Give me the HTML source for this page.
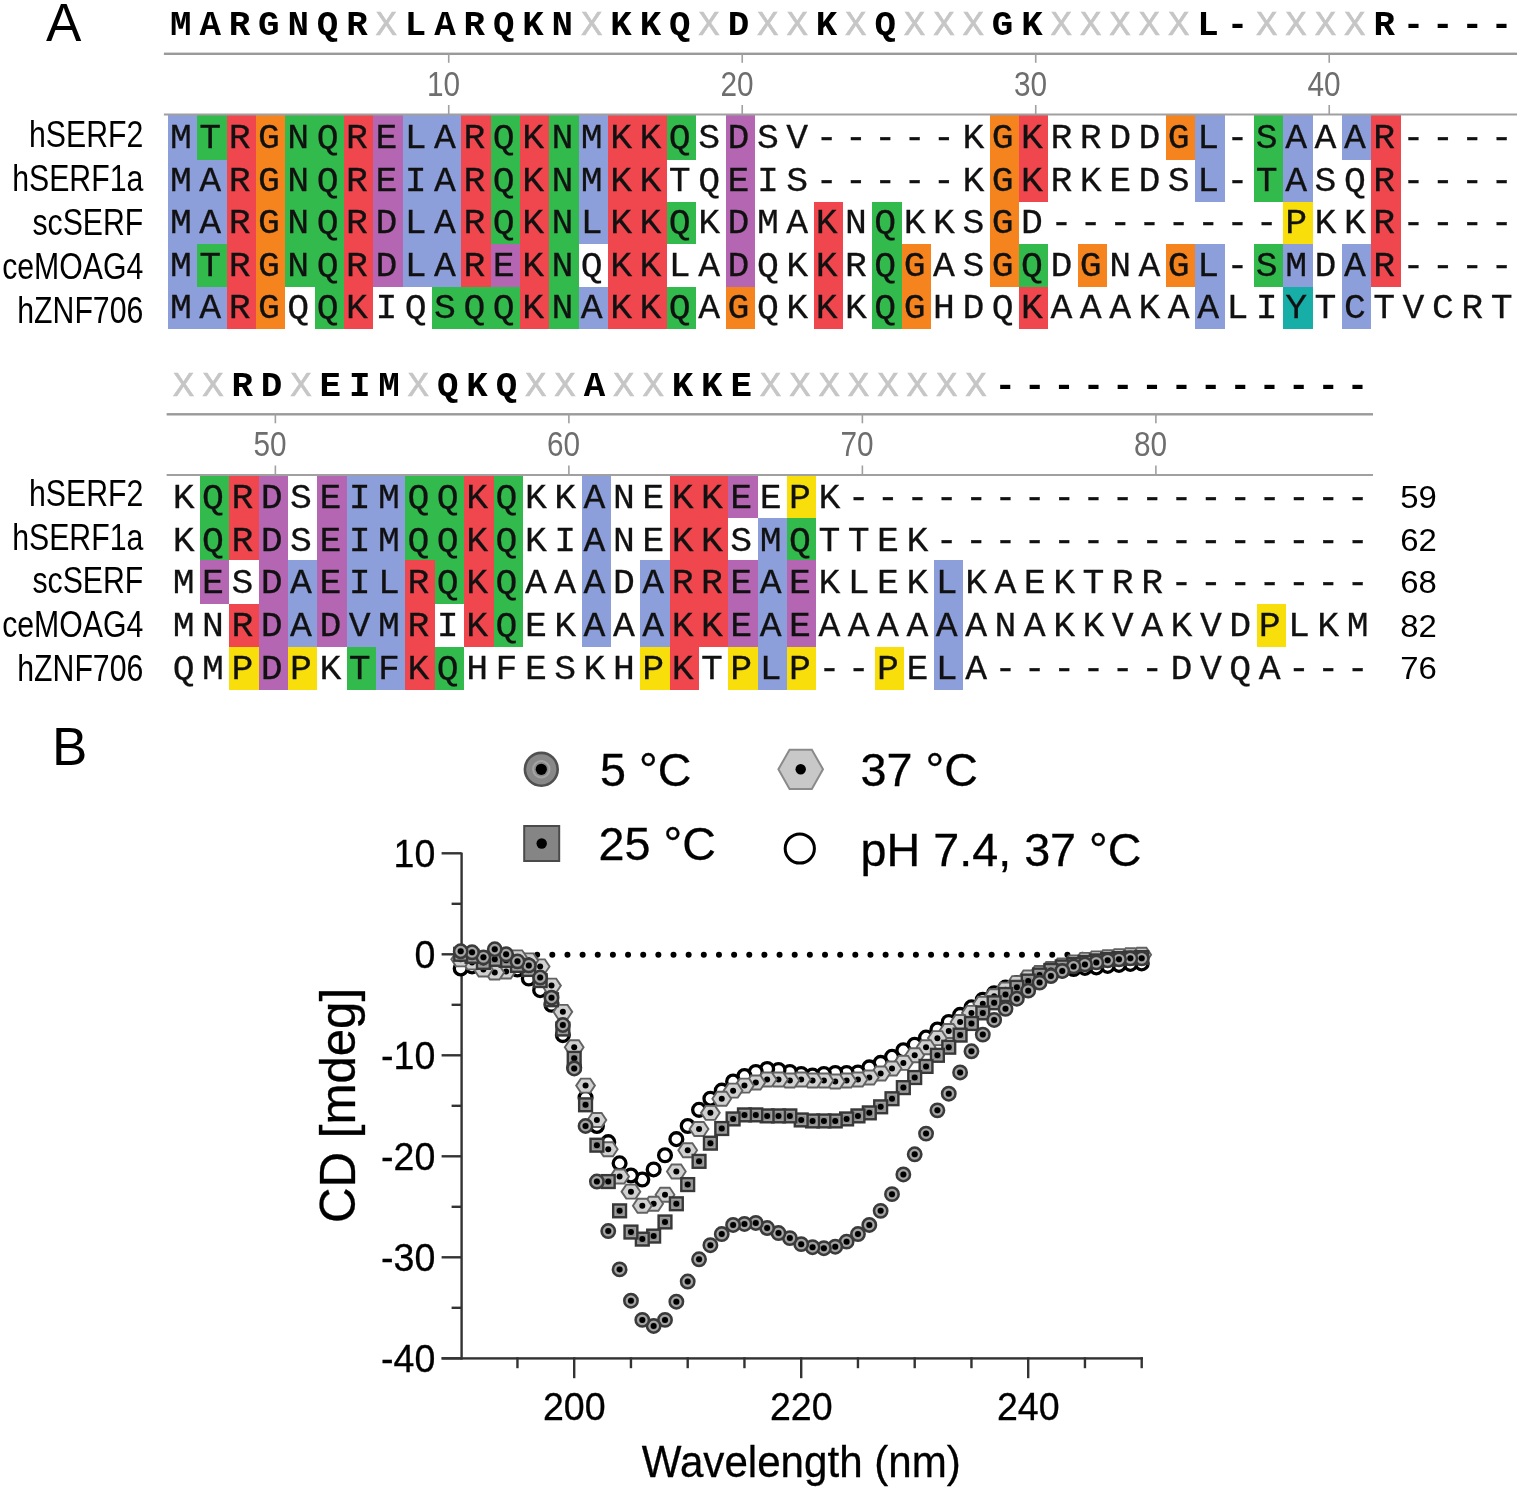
<!DOCTYPE html>
<html><head><meta charset="utf-8"><title>Alignment and CD spectra</title>
<style>html,body{margin:0;padding:0;background:#fff;}body{width:1523px;height:1487px;overflow:hidden;}svg{display:block;}</style>
</head><body>
<svg width="1523" height="1487" viewBox="0 0 1523 1487">
<rect width="100%" height="100%" fill="#fff"/>
<rect x="168" y="115" width="29" height="214" fill="#8c9fda"/>
<rect x="197" y="115" width="30" height="45" fill="#32bb4c"/>
<rect x="197" y="160" width="30" height="84" fill="#8c9fda"/>
<rect x="197" y="244" width="30" height="43" fill="#32bb4c"/>
<rect x="197" y="287" width="30" height="42" fill="#8c9fda"/>
<rect x="227" y="115" width="29" height="214" fill="#f0464e"/>
<rect x="256" y="115" width="29" height="214" fill="#f5841f"/>
<rect x="285" y="115" width="30" height="172" fill="#32bb4c"/>
<rect x="315" y="115" width="29" height="214" fill="#32bb4c"/>
<rect x="344" y="115" width="29" height="214" fill="#f0464e"/>
<rect x="373" y="115" width="30" height="172" fill="#b566b3"/>
<rect x="403" y="115" width="29" height="172" fill="#8c9fda"/>
<rect x="432" y="115" width="29" height="172" fill="#8c9fda"/>
<rect x="432" y="287" width="29" height="42" fill="#32bb4c"/>
<rect x="461" y="115" width="30" height="172" fill="#f0464e"/>
<rect x="461" y="287" width="30" height="42" fill="#32bb4c"/>
<rect x="491" y="115" width="29" height="129" fill="#32bb4c"/>
<rect x="491" y="244" width="29" height="43" fill="#b566b3"/>
<rect x="491" y="287" width="29" height="42" fill="#32bb4c"/>
<rect x="520" y="115" width="29" height="214" fill="#f0464e"/>
<rect x="549" y="115" width="30" height="214" fill="#32bb4c"/>
<rect x="579" y="115" width="29" height="129" fill="#8c9fda"/>
<rect x="579" y="287" width="29" height="42" fill="#8c9fda"/>
<rect x="608" y="115" width="30" height="214" fill="#f0464e"/>
<rect x="638" y="115" width="29" height="214" fill="#f0464e"/>
<rect x="667" y="115" width="29" height="45" fill="#32bb4c"/>
<rect x="667" y="202" width="29" height="42" fill="#32bb4c"/>
<rect x="667" y="287" width="29" height="42" fill="#32bb4c"/>
<rect x="726" y="115" width="29" height="172" fill="#b566b3"/>
<rect x="726" y="287" width="29" height="42" fill="#f5841f"/>
<rect x="814" y="202" width="29" height="127" fill="#f0464e"/>
<rect x="872" y="202" width="30" height="127" fill="#32bb4c"/>
<rect x="902" y="244" width="29" height="85" fill="#f5841f"/>
<rect x="990" y="115" width="29" height="172" fill="#f5841f"/>
<rect x="1019" y="115" width="29" height="87" fill="#f0464e"/>
<rect x="1019" y="244" width="29" height="43" fill="#32bb4c"/>
<rect x="1019" y="287" width="29" height="42" fill="#f0464e"/>
<rect x="1078" y="244" width="29" height="43" fill="#f5841f"/>
<rect x="1166" y="115" width="29" height="45" fill="#f5841f"/>
<rect x="1166" y="244" width="29" height="43" fill="#f5841f"/>
<rect x="1195" y="115" width="30" height="87" fill="#8c9fda"/>
<rect x="1195" y="244" width="30" height="85" fill="#8c9fda"/>
<rect x="1254" y="115" width="29" height="87" fill="#32bb4c"/>
<rect x="1254" y="244" width="29" height="43" fill="#32bb4c"/>
<rect x="1283" y="115" width="30" height="87" fill="#8c9fda"/>
<rect x="1283" y="202" width="30" height="42" fill="#f8df0c"/>
<rect x="1283" y="244" width="30" height="43" fill="#8c9fda"/>
<rect x="1283" y="287" width="30" height="42" fill="#17aea7"/>
<rect x="1342" y="115" width="29" height="45" fill="#8c9fda"/>
<rect x="1342" y="244" width="29" height="85" fill="#8c9fda"/>
<rect x="1371" y="115" width="30" height="172" fill="#f0464e"/>
<text transform="scale(1.03,1)" x="175.61 204.1 232.6 261.09 289.59 318.08 346.58 375.07 403.57 432.06 460.56 489.05 517.55 546.04 574.54 603.03 631.53 660.02 688.52 717.01 745.51 774 802.5 831 859.49 887.99 916.48 944.98 973.47 1001.97 1030.46 1058.96 1087.45 1115.95 1144.44 1172.94 1201.43 1229.93 1258.42 1286.92 1315.41 1343.91 1372.4 1400.9 1429.39 1457.89" y="147.8" font-family="'Liberation Mono', 'DejaVu Sans Mono', monospace" font-size="35.4" text-anchor="middle" fill="#111" stroke="#111" stroke-width="0.25">MTRGNQRELARQKNMKKQSDSV-----KGKRRDDGL-SAAAR----</text>
<text transform="scale(1.03,1)" x="175.61 204.1 232.6 261.09 289.59 318.08 346.58 375.07 403.57 432.06 460.56 489.05 517.55 546.04 574.54 603.03 631.53 660.02 688.52 717.01 745.51 774 802.5 831 859.49 887.99 916.48 944.98 973.47 1001.97 1030.46 1058.96 1087.45 1115.95 1144.44 1172.94 1201.43 1229.93 1258.42 1286.92 1315.41 1343.91 1372.4 1400.9 1429.39 1457.89" y="190.8" font-family="'Liberation Mono', 'DejaVu Sans Mono', monospace" font-size="35.4" text-anchor="middle" fill="#111" stroke="#111" stroke-width="0.25">MARGNQREIARQKNMKKTQEIS-----KGKRKEDSL-TASQR----</text>
<text transform="scale(1.03,1)" x="175.61 204.1 232.6 261.09 289.59 318.08 346.58 375.07 403.57 432.06 460.56 489.05 517.55 546.04 574.54 603.03 631.53 660.02 688.52 717.01 745.51 774 802.5 831 859.49 887.99 916.48 944.98 973.47 1001.97 1030.46 1058.96 1087.45 1115.95 1144.44 1172.94 1201.43 1229.93 1258.42 1286.92 1315.41 1343.91 1372.4 1400.9 1429.39 1457.89" y="233.2" font-family="'Liberation Mono', 'DejaVu Sans Mono', monospace" font-size="35.4" text-anchor="middle" fill="#111" stroke="#111" stroke-width="0.25">MARGNQRDLARQKNLKKQKDMAKNQKKSGD--------PKKR----</text>
<text transform="scale(1.03,1)" x="175.61 204.1 232.6 261.09 289.59 318.08 346.58 375.07 403.57 432.06 460.56 489.05 517.55 546.04 574.54 603.03 631.53 660.02 688.52 717.01 745.51 774 802.5 831 859.49 887.99 916.48 944.98 973.47 1001.97 1030.46 1058.96 1087.45 1115.95 1144.44 1172.94 1201.43 1229.93 1258.42 1286.92 1315.41 1343.91 1372.4 1400.9 1429.39 1457.89" y="276" font-family="'Liberation Mono', 'DejaVu Sans Mono', monospace" font-size="35.4" text-anchor="middle" fill="#111" stroke="#111" stroke-width="0.25">MTRGNQRDLAREKNQKKLADQKKRQGASGQDGNAGL-SMDAR----</text>
<text transform="scale(1.03,1)" x="175.61 204.1 232.6 261.09 289.59 318.08 346.58 375.07 403.57 432.06 460.56 489.05 517.55 546.04 574.54 603.03 631.53 660.02 688.52 717.01 745.51 774 802.5 831 859.49 887.99 916.48 944.98 973.47 1001.97 1030.46 1058.96 1087.45 1115.95 1144.44 1172.94 1201.43 1229.93 1258.42 1286.92 1315.41 1343.91 1372.4 1400.9 1429.39 1457.89" y="318.4" font-family="'Liberation Mono', 'DejaVu Sans Mono', monospace" font-size="35.4" text-anchor="middle" fill="#111" stroke="#111" stroke-width="0.25">MARGQQKIQSQQKNAKKQAGQKKKQGHDQKAAAKAALIYTCTVCRT</text>
<text transform="translate(143.3,147.2) scale(0.8,1)" x="0" y="0" font-family="'Liberation Sans', Arial, sans-serif" font-size="37.8" text-anchor="end" fill="#000">hSERF2</text>
<text transform="translate(143.3,190.9) scale(0.8,1)" x="0" y="0" font-family="'Liberation Sans', Arial, sans-serif" font-size="37.8" text-anchor="end" fill="#000">hSERF1a</text>
<text transform="translate(143.3,234.9) scale(0.8,1)" x="0" y="0" font-family="'Liberation Sans', Arial, sans-serif" font-size="37.8" text-anchor="end" fill="#000">scSERF</text>
<text transform="translate(143.3,278.6) scale(0.8,1)" x="0" y="0" font-family="'Liberation Sans', Arial, sans-serif" font-size="37.8" text-anchor="end" fill="#000">ceMOAG4</text>
<text transform="translate(143.3,322.6) scale(0.8,1)" x="0" y="0" font-family="'Liberation Sans', Arial, sans-serif" font-size="37.8" text-anchor="end" fill="#000">hZNF706</text>
<text transform="scale(1.0,1)" y="35.3" font-family="'Liberation Mono', 'DejaVu Sans Mono', monospace" font-weight="bold" font-size="35.8" text-anchor="middle"><tspan x="180.78" fill="#000">M</tspan><tspan x="210.12" fill="#000">A</tspan><tspan x="239.47" fill="#000">R</tspan><tspan x="268.82" fill="#000">G</tspan><tspan x="298.18" fill="#000">N</tspan><tspan x="327.53" fill="#000">Q</tspan><tspan x="356.88" fill="#000">R</tspan><tspan x="386.22" fill="#c6c6c6" font-weight="normal" stroke="#c6c6c6" stroke-width="0.6">X</tspan><tspan x="415.57" fill="#000">L</tspan><tspan x="444.93" fill="#000">A</tspan><tspan x="474.28" fill="#000">R</tspan><tspan x="503.63" fill="#000">Q</tspan><tspan x="532.98" fill="#000">K</tspan><tspan x="562.33" fill="#000">N</tspan><tspan x="591.68" fill="#c6c6c6" font-weight="normal" stroke="#c6c6c6" stroke-width="0.6">X</tspan><tspan x="621.03" fill="#000">K</tspan><tspan x="650.38" fill="#000">K</tspan><tspan x="679.73" fill="#000">Q</tspan><tspan x="709.08" fill="#c6c6c6" font-weight="normal" stroke="#c6c6c6" stroke-width="0.6">X</tspan><tspan x="738.43" fill="#000">D</tspan><tspan x="767.78" fill="#c6c6c6" font-weight="normal" stroke="#c6c6c6" stroke-width="0.6">X</tspan><tspan x="797.12" fill="#c6c6c6" font-weight="normal" stroke="#c6c6c6" stroke-width="0.6">X</tspan><tspan x="826.48" fill="#000">K</tspan><tspan x="855.83" fill="#c6c6c6" font-weight="normal" stroke="#c6c6c6" stroke-width="0.6">X</tspan><tspan x="885.18" fill="#000">Q</tspan><tspan x="914.53" fill="#c6c6c6" font-weight="normal" stroke="#c6c6c6" stroke-width="0.6">X</tspan><tspan x="943.88" fill="#c6c6c6" font-weight="normal" stroke="#c6c6c6" stroke-width="0.6">X</tspan><tspan x="973.23" fill="#c6c6c6" font-weight="normal" stroke="#c6c6c6" stroke-width="0.6">X</tspan><tspan x="1002.58" fill="#000">G</tspan><tspan x="1031.93" fill="#000">K</tspan><tspan x="1061.28" fill="#c6c6c6" font-weight="normal" stroke="#c6c6c6" stroke-width="0.6">X</tspan><tspan x="1090.63" fill="#c6c6c6" font-weight="normal" stroke="#c6c6c6" stroke-width="0.6">X</tspan><tspan x="1119.98" fill="#c6c6c6" font-weight="normal" stroke="#c6c6c6" stroke-width="0.6">X</tspan><tspan x="1149.33" fill="#c6c6c6" font-weight="normal" stroke="#c6c6c6" stroke-width="0.6">X</tspan><tspan x="1178.68" fill="#c6c6c6" font-weight="normal" stroke="#c6c6c6" stroke-width="0.6">X</tspan><tspan x="1208.03" fill="#000">L</tspan><tspan x="1237.38" fill="#000">-</tspan><tspan x="1266.73" fill="#c6c6c6" font-weight="normal" stroke="#c6c6c6" stroke-width="0.6">X</tspan><tspan x="1296.08" fill="#c6c6c6" font-weight="normal" stroke="#c6c6c6" stroke-width="0.6">X</tspan><tspan x="1325.43" fill="#c6c6c6" font-weight="normal" stroke="#c6c6c6" stroke-width="0.6">X</tspan><tspan x="1354.78" fill="#c6c6c6" font-weight="normal" stroke="#c6c6c6" stroke-width="0.6">X</tspan><tspan x="1384.13" fill="#000">R</tspan><tspan x="1413.48" fill="#000">-</tspan><tspan x="1442.83" fill="#000">-</tspan><tspan x="1472.18" fill="#000">-</tspan><tspan x="1501.53" fill="#000">-</tspan></text>
<rect x="163.9" y="52.6" width="1353.1" height="2.4" fill="#9a9a9a"/>
<rect x="163.9" y="113.5" width="1353.1" height="2.0" fill="#a0a0a0"/>
<rect x="447.93" y="53.8" width="1.6" height="9" fill="#a0a0a0"/>
<rect x="447.93" y="105" width="1.6" height="9.5" fill="#a0a0a0"/>
<text transform="translate(443.43,95.6) scale(0.85,1)" x="0" y="0" font-family="'Liberation Sans', Arial, sans-serif" font-size="35" text-anchor="middle" fill="#6e6e6e">10</text>
<rect x="741.43" y="53.8" width="1.6" height="9" fill="#a0a0a0"/>
<rect x="741.43" y="105" width="1.6" height="9.5" fill="#a0a0a0"/>
<text transform="translate(736.93,95.6) scale(0.85,1)" x="0" y="0" font-family="'Liberation Sans', Arial, sans-serif" font-size="35" text-anchor="middle" fill="#6e6e6e">20</text>
<rect x="1034.93" y="53.8" width="1.6" height="9" fill="#a0a0a0"/>
<rect x="1034.93" y="105" width="1.6" height="9.5" fill="#a0a0a0"/>
<text transform="translate(1030.43,95.6) scale(0.85,1)" x="0" y="0" font-family="'Liberation Sans', Arial, sans-serif" font-size="35" text-anchor="middle" fill="#6e6e6e">30</text>
<rect x="1328.43" y="53.8" width="1.6" height="9" fill="#a0a0a0"/>
<rect x="1328.43" y="105" width="1.6" height="9.5" fill="#a0a0a0"/>
<text transform="translate(1323.93,95.6) scale(0.85,1)" x="0" y="0" font-family="'Liberation Sans', Arial, sans-serif" font-size="35" text-anchor="middle" fill="#6e6e6e">40</text>
<rect x="200" y="476" width="29" height="84" fill="#32bb4c"/>
<rect x="200" y="560" width="29" height="44" fill="#b566b3"/>
<rect x="229" y="476" width="30" height="84" fill="#f0464e"/>
<rect x="229" y="604" width="30" height="43" fill="#f0464e"/>
<rect x="229" y="647" width="30" height="43" fill="#f8df0c"/>
<rect x="259" y="476" width="29" height="214" fill="#b566b3"/>
<rect x="288" y="560" width="29" height="87" fill="#8c9fda"/>
<rect x="288" y="647" width="29" height="43" fill="#f8df0c"/>
<rect x="317" y="476" width="30" height="171" fill="#b566b3"/>
<rect x="347" y="476" width="29" height="171" fill="#8c9fda"/>
<rect x="347" y="647" width="29" height="43" fill="#32bb4c"/>
<rect x="376" y="476" width="29" height="214" fill="#8c9fda"/>
<rect x="405" y="476" width="30" height="84" fill="#32bb4c"/>
<rect x="405" y="560" width="30" height="130" fill="#f0464e"/>
<rect x="435" y="476" width="29" height="128" fill="#32bb4c"/>
<rect x="435" y="647" width="29" height="43" fill="#32bb4c"/>
<rect x="464" y="476" width="30" height="171" fill="#f0464e"/>
<rect x="494" y="476" width="29" height="171" fill="#32bb4c"/>
<rect x="582" y="476" width="29" height="171" fill="#8c9fda"/>
<rect x="640" y="560" width="30" height="87" fill="#8c9fda"/>
<rect x="640" y="647" width="30" height="43" fill="#f8df0c"/>
<rect x="670" y="476" width="29" height="214" fill="#f0464e"/>
<rect x="699" y="476" width="29" height="171" fill="#f0464e"/>
<rect x="728" y="476" width="30" height="42" fill="#b566b3"/>
<rect x="728" y="560" width="30" height="87" fill="#b566b3"/>
<rect x="728" y="647" width="30" height="43" fill="#f8df0c"/>
<rect x="758" y="518" width="29" height="172" fill="#8c9fda"/>
<rect x="787" y="476" width="29" height="42" fill="#f8df0c"/>
<rect x="787" y="518" width="29" height="42" fill="#32bb4c"/>
<rect x="787" y="560" width="29" height="87" fill="#b566b3"/>
<rect x="787" y="647" width="29" height="43" fill="#f8df0c"/>
<rect x="875" y="647" width="29" height="43" fill="#f8df0c"/>
<rect x="934" y="560" width="29" height="130" fill="#8c9fda"/>
<rect x="1257" y="604" width="29" height="43" fill="#f8df0c"/>
<text transform="scale(1.03,1)" x="178.28 206.77 235.27 263.76 292.26 320.75 349.25 377.74 406.24 434.73 463.23 491.72 520.22 548.71 577.21 605.7 634.2 662.69 691.19 719.68 748.18 776.67 805.17 833.67 862.16 890.66 919.15 947.65 976.14 1004.64 1033.13 1061.63 1090.12 1118.62 1147.11 1175.61 1204.1 1232.6 1261.09 1289.59 1318.08" y="507.9" font-family="'Liberation Mono', 'DejaVu Sans Mono', monospace" font-size="35.4" text-anchor="middle" fill="#111" stroke="#111" stroke-width="0.25">KQRDSEIMQQKQKKANEKKEEPK------------------</text>
<text transform="scale(1.03,1)" x="178.28 206.77 235.27 263.76 292.26 320.75 349.25 377.74 406.24 434.73 463.23 491.72 520.22 548.71 577.21 605.7 634.2 662.69 691.19 719.68 748.18 776.67 805.17 833.67 862.16 890.66 919.15 947.65 976.14 1004.64 1033.13 1061.63 1090.12 1118.62 1147.11 1175.61 1204.1 1232.6 1261.09 1289.59 1318.08" y="551" font-family="'Liberation Mono', 'DejaVu Sans Mono', monospace" font-size="35.4" text-anchor="middle" fill="#111" stroke="#111" stroke-width="0.25">KQRDSEIMQQKQKIANEKKSMQTTEK---------------</text>
<text transform="scale(1.03,1)" x="178.28 206.77 235.27 263.76 292.26 320.75 349.25 377.74 406.24 434.73 463.23 491.72 520.22 548.71 577.21 605.7 634.2 662.69 691.19 719.68 748.18 776.67 805.17 833.67 862.16 890.66 919.15 947.65 976.14 1004.64 1033.13 1061.63 1090.12 1118.62 1147.11 1175.61 1204.1 1232.6 1261.09 1289.59 1318.08" y="593.3" font-family="'Liberation Mono', 'DejaVu Sans Mono', monospace" font-size="35.4" text-anchor="middle" fill="#111" stroke="#111" stroke-width="0.25">MESDAEILRQKQAAADARREAEKLEKLKAEKTRR-------</text>
<text transform="scale(1.03,1)" x="178.28 206.77 235.27 263.76 292.26 320.75 349.25 377.74 406.24 434.73 463.23 491.72 520.22 548.71 577.21 605.7 634.2 662.69 691.19 719.68 748.18 776.67 805.17 833.67 862.16 890.66 919.15 947.65 976.14 1004.64 1033.13 1061.63 1090.12 1118.62 1147.11 1175.61 1204.1 1232.6 1261.09 1289.59 1318.08" y="635.8" font-family="'Liberation Mono', 'DejaVu Sans Mono', monospace" font-size="35.4" text-anchor="middle" fill="#111" stroke="#111" stroke-width="0.25">MNRDADVMRIKQEKAAAKKEAEAAAAAANAKKVAKVDPLKM</text>
<text transform="scale(1.03,1)" x="178.28 206.77 235.27 263.76 292.26 320.75 349.25 377.74 406.24 434.73 463.23 491.72 520.22 548.71 577.21 605.7 634.2 662.69 691.19 719.68 748.18 776.67 805.17 833.67 862.16 890.66 919.15 947.65 976.14 1004.64 1033.13 1061.63 1090.12 1118.62 1147.11 1175.61 1204.1 1232.6 1261.09 1289.59 1318.08" y="678.8" font-family="'Liberation Mono', 'DejaVu Sans Mono', monospace" font-size="35.4" text-anchor="middle" fill="#111" stroke="#111" stroke-width="0.25">QMPDPKTFKQHFESKHPKTPLP--PELA------DVQA---</text>
<text transform="translate(143.3,505.6) scale(0.8,1)" x="0" y="0" font-family="'Liberation Sans', Arial, sans-serif" font-size="37.8" text-anchor="end" fill="#000">hSERF2</text>
<text transform="translate(143.3,549.6) scale(0.8,1)" x="0" y="0" font-family="'Liberation Sans', Arial, sans-serif" font-size="37.8" text-anchor="end" fill="#000">hSERF1a</text>
<text transform="translate(143.3,593.4) scale(0.8,1)" x="0" y="0" font-family="'Liberation Sans', Arial, sans-serif" font-size="37.8" text-anchor="end" fill="#000">scSERF</text>
<text transform="translate(143.3,637.1) scale(0.8,1)" x="0" y="0" font-family="'Liberation Sans', Arial, sans-serif" font-size="37.8" text-anchor="end" fill="#000">ceMOAG4</text>
<text transform="translate(143.3,680.8) scale(0.8,1)" x="0" y="0" font-family="'Liberation Sans', Arial, sans-serif" font-size="37.8" text-anchor="end" fill="#000">hZNF706</text>
<text transform="scale(1.0,1)" y="395.8" font-family="'Liberation Mono', 'DejaVu Sans Mono', monospace" font-weight="bold" font-size="35.8" text-anchor="middle"><tspan x="183.53" fill="#c6c6c6" font-weight="normal" stroke="#c6c6c6" stroke-width="0.6">X</tspan><tspan x="212.88" fill="#c6c6c6" font-weight="normal" stroke="#c6c6c6" stroke-width="0.6">X</tspan><tspan x="242.22" fill="#000">R</tspan><tspan x="271.57" fill="#000">D</tspan><tspan x="300.93" fill="#c6c6c6" font-weight="normal" stroke="#c6c6c6" stroke-width="0.6">X</tspan><tspan x="330.28" fill="#000">E</tspan><tspan x="359.62" fill="#000">I</tspan><tspan x="388.97" fill="#000">M</tspan><tspan x="418.32" fill="#c6c6c6" font-weight="normal" stroke="#c6c6c6" stroke-width="0.6">X</tspan><tspan x="447.68" fill="#000">Q</tspan><tspan x="477.03" fill="#000">K</tspan><tspan x="506.38" fill="#000">Q</tspan><tspan x="535.73" fill="#c6c6c6" font-weight="normal" stroke="#c6c6c6" stroke-width="0.6">X</tspan><tspan x="565.08" fill="#c6c6c6" font-weight="normal" stroke="#c6c6c6" stroke-width="0.6">X</tspan><tspan x="594.43" fill="#000">A</tspan><tspan x="623.78" fill="#c6c6c6" font-weight="normal" stroke="#c6c6c6" stroke-width="0.6">X</tspan><tspan x="653.13" fill="#c6c6c6" font-weight="normal" stroke="#c6c6c6" stroke-width="0.6">X</tspan><tspan x="682.48" fill="#000">K</tspan><tspan x="711.83" fill="#000">K</tspan><tspan x="741.18" fill="#000">E</tspan><tspan x="770.53" fill="#c6c6c6" font-weight="normal" stroke="#c6c6c6" stroke-width="0.6">X</tspan><tspan x="799.88" fill="#c6c6c6" font-weight="normal" stroke="#c6c6c6" stroke-width="0.6">X</tspan><tspan x="829.23" fill="#c6c6c6" font-weight="normal" stroke="#c6c6c6" stroke-width="0.6">X</tspan><tspan x="858.58" fill="#c6c6c6" font-weight="normal" stroke="#c6c6c6" stroke-width="0.6">X</tspan><tspan x="887.93" fill="#c6c6c6" font-weight="normal" stroke="#c6c6c6" stroke-width="0.6">X</tspan><tspan x="917.28" fill="#c6c6c6" font-weight="normal" stroke="#c6c6c6" stroke-width="0.6">X</tspan><tspan x="946.63" fill="#c6c6c6" font-weight="normal" stroke="#c6c6c6" stroke-width="0.6">X</tspan><tspan x="975.98" fill="#c6c6c6" font-weight="normal" stroke="#c6c6c6" stroke-width="0.6">X</tspan><tspan x="1005.33" fill="#000">-</tspan><tspan x="1034.68" fill="#000">-</tspan><tspan x="1064.03" fill="#000">-</tspan><tspan x="1093.38" fill="#000">-</tspan><tspan x="1122.73" fill="#000">-</tspan><tspan x="1152.08" fill="#000">-</tspan><tspan x="1181.43" fill="#000">-</tspan><tspan x="1210.78" fill="#000">-</tspan><tspan x="1240.13" fill="#000">-</tspan><tspan x="1269.48" fill="#000">-</tspan><tspan x="1298.83" fill="#000">-</tspan><tspan x="1328.18" fill="#000">-</tspan><tspan x="1357.53" fill="#000">-</tspan></text>
<rect x="166.65" y="413.1" width="1206.35" height="2.4" fill="#9a9a9a"/>
<rect x="166.65" y="474" width="1206.35" height="2.0" fill="#a0a0a0"/>
<rect x="274.57" y="414.3" width="1.6" height="9" fill="#a0a0a0"/>
<rect x="274.57" y="465.5" width="1.6" height="9.5" fill="#a0a0a0"/>
<text transform="translate(270.07,456.1) scale(0.85,1)" x="0" y="0" font-family="'Liberation Sans', Arial, sans-serif" font-size="35" text-anchor="middle" fill="#6e6e6e">50</text>
<rect x="568.08" y="414.3" width="1.6" height="9" fill="#a0a0a0"/>
<rect x="568.08" y="465.5" width="1.6" height="9.5" fill="#a0a0a0"/>
<text transform="translate(563.58,456.1) scale(0.85,1)" x="0" y="0" font-family="'Liberation Sans', Arial, sans-serif" font-size="35" text-anchor="middle" fill="#6e6e6e">60</text>
<rect x="861.58" y="414.3" width="1.6" height="9" fill="#a0a0a0"/>
<rect x="861.58" y="465.5" width="1.6" height="9.5" fill="#a0a0a0"/>
<text transform="translate(857.08,456.1) scale(0.85,1)" x="0" y="0" font-family="'Liberation Sans', Arial, sans-serif" font-size="35" text-anchor="middle" fill="#6e6e6e">70</text>
<rect x="1155.08" y="414.3" width="1.6" height="9" fill="#a0a0a0"/>
<rect x="1155.08" y="465.5" width="1.6" height="9.5" fill="#a0a0a0"/>
<text transform="translate(1150.58,456.1) scale(0.85,1)" x="0" y="0" font-family="'Liberation Sans', Arial, sans-serif" font-size="35" text-anchor="middle" fill="#6e6e6e">80</text>
<text transform="translate(1400.2,508) scale(1.04,1)" x="0" y="0" font-family="'Liberation Sans', Arial, sans-serif" font-size="31.6" fill="#000">59</text>
<text transform="translate(1400.2,551.3) scale(1.04,1)" x="0" y="0" font-family="'Liberation Sans', Arial, sans-serif" font-size="31.6" fill="#000">62</text>
<text transform="translate(1400.2,593.3) scale(1.04,1)" x="0" y="0" font-family="'Liberation Sans', Arial, sans-serif" font-size="31.6" fill="#000">68</text>
<text transform="translate(1400.2,636.9) scale(1.04,1)" x="0" y="0" font-family="'Liberation Sans', Arial, sans-serif" font-size="31.6" fill="#000">82</text>
<text transform="translate(1400.2,679.2) scale(1.04,1)" x="0" y="0" font-family="'Liberation Sans', Arial, sans-serif" font-size="31.6" fill="#000">76</text>
<text x="46" y="41" font-family="'Liberation Sans', Arial, sans-serif" font-size="53" fill="#000">A</text>
<text x="52" y="765.3" font-family="'Liberation Sans', Arial, sans-serif" font-size="53" fill="#000">B</text>
<rect x="460.4" y="852.6" width="2.4" height="507" fill="#333"/>
<rect x="441.6" y="1357.2" width="701.3" height="2.4" fill="#333"/>
<rect x="441.6" y="852.1" width="20" height="2.4" fill="#333"/>
<text transform="translate(435.3,866.9) scale(0.963,1)" font-family="'Liberation Sans', Arial, sans-serif" font-size="39" text-anchor="end" fill="#000" stroke="#000" stroke-width="0.3">10</text>
<rect x="451.6" y="902.6" width="10" height="2.4" fill="#333"/>
<rect x="441.6" y="953.1" width="20" height="2.4" fill="#333"/>
<text transform="translate(435.3,967.9) scale(0.963,1)" font-family="'Liberation Sans', Arial, sans-serif" font-size="39" text-anchor="end" fill="#000" stroke="#000" stroke-width="0.3">0</text>
<rect x="451.6" y="1003.6" width="10" height="2.4" fill="#333"/>
<rect x="441.6" y="1054.1" width="20" height="2.4" fill="#333"/>
<text transform="translate(435.3,1068.9) scale(0.963,1)" font-family="'Liberation Sans', Arial, sans-serif" font-size="39" text-anchor="end" fill="#000" stroke="#000" stroke-width="0.3">-10</text>
<rect x="451.6" y="1104.6" width="10" height="2.4" fill="#333"/>
<rect x="441.6" y="1155.1" width="20" height="2.4" fill="#333"/>
<text transform="translate(435.3,1169.9) scale(0.963,1)" font-family="'Liberation Sans', Arial, sans-serif" font-size="39" text-anchor="end" fill="#000" stroke="#000" stroke-width="0.3">-20</text>
<rect x="451.6" y="1205.6" width="10" height="2.4" fill="#333"/>
<rect x="441.6" y="1256.1" width="20" height="2.4" fill="#333"/>
<text transform="translate(435.3,1270.9) scale(0.963,1)" font-family="'Liberation Sans', Arial, sans-serif" font-size="39" text-anchor="end" fill="#000" stroke="#000" stroke-width="0.3">-30</text>
<rect x="451.6" y="1306.6" width="10" height="2.4" fill="#333"/>
<rect x="441.6" y="1357.1" width="20" height="2.4" fill="#333"/>
<text transform="translate(435.3,1371.9) scale(0.963,1)" font-family="'Liberation Sans', Arial, sans-serif" font-size="39" text-anchor="end" fill="#000" stroke="#000" stroke-width="0.3">-40</text>
<rect x="516.25" y="1357.2" width="2.4" height="11" fill="#333"/>
<rect x="573" y="1357.2" width="2.4" height="21" fill="#333"/>
<text transform="translate(574.2,1420.2) scale(0.963,1)" font-family="'Liberation Sans', Arial, sans-serif" font-size="39" text-anchor="middle" fill="#000" stroke="#000" stroke-width="0.3">200</text>
<rect x="629.75" y="1357.2" width="2.4" height="11" fill="#333"/>
<rect x="686.5" y="1357.2" width="2.4" height="11" fill="#333"/>
<rect x="743.25" y="1357.2" width="2.4" height="11" fill="#333"/>
<rect x="800" y="1357.2" width="2.4" height="21" fill="#333"/>
<text transform="translate(801.2,1420.2) scale(0.963,1)" font-family="'Liberation Sans', Arial, sans-serif" font-size="39" text-anchor="middle" fill="#000" stroke="#000" stroke-width="0.3">220</text>
<rect x="856.75" y="1357.2" width="2.4" height="11" fill="#333"/>
<rect x="913.5" y="1357.2" width="2.4" height="11" fill="#333"/>
<rect x="970.25" y="1357.2" width="2.4" height="11" fill="#333"/>
<rect x="1027" y="1357.2" width="2.4" height="21" fill="#333"/>
<text transform="translate(1028.2,1420.2) scale(0.963,1)" font-family="'Liberation Sans', Arial, sans-serif" font-size="39" text-anchor="middle" fill="#000" stroke="#000" stroke-width="0.3">240</text>
<rect x="1083.75" y="1357.2" width="2.4" height="11" fill="#333"/>
<rect x="1140.5" y="1357.2" width="2.4" height="11" fill="#333"/>
<text transform="translate(801.3,1477.3) scale(0.962,1)" x="0" y="0" font-family="'Liberation Sans', Arial, sans-serif" font-size="43.8" text-anchor="middle" fill="#000" stroke="#000" stroke-width="0.3">Wavelength (nm)</text>
<text transform="translate(355.3,1105.4) rotate(-90)" x="0" y="0" font-family="'Liberation Sans', Arial, sans-serif" font-size="49.2" text-anchor="middle" fill="#000" stroke="#000" stroke-width="0.3">CD [mdeg]</text>
<circle cx="461.4" cy="954.8" r="3.0" fill="#000"/>
<circle cx="476.55" cy="954.8" r="3.0" fill="#000"/>
<circle cx="491.7" cy="954.8" r="3.0" fill="#000"/>
<circle cx="506.85" cy="954.8" r="3.0" fill="#000"/>
<circle cx="522" cy="954.8" r="3.0" fill="#000"/>
<circle cx="537.15" cy="954.8" r="3.0" fill="#000"/>
<circle cx="552.3" cy="954.8" r="3.0" fill="#000"/>
<circle cx="567.45" cy="954.8" r="3.0" fill="#000"/>
<circle cx="582.6" cy="954.8" r="3.0" fill="#000"/>
<circle cx="597.75" cy="954.8" r="3.0" fill="#000"/>
<circle cx="612.9" cy="954.8" r="3.0" fill="#000"/>
<circle cx="628.05" cy="954.8" r="3.0" fill="#000"/>
<circle cx="643.2" cy="954.8" r="3.0" fill="#000"/>
<circle cx="658.35" cy="954.8" r="3.0" fill="#000"/>
<circle cx="673.5" cy="954.8" r="3.0" fill="#000"/>
<circle cx="688.65" cy="954.8" r="3.0" fill="#000"/>
<circle cx="703.8" cy="954.8" r="3.0" fill="#000"/>
<circle cx="718.95" cy="954.8" r="3.0" fill="#000"/>
<circle cx="734.1" cy="954.8" r="3.0" fill="#000"/>
<circle cx="749.25" cy="954.8" r="3.0" fill="#000"/>
<circle cx="764.4" cy="954.8" r="3.0" fill="#000"/>
<circle cx="779.55" cy="954.8" r="3.0" fill="#000"/>
<circle cx="794.7" cy="954.8" r="3.0" fill="#000"/>
<circle cx="809.85" cy="954.8" r="3.0" fill="#000"/>
<circle cx="825" cy="954.8" r="3.0" fill="#000"/>
<circle cx="840.15" cy="954.8" r="3.0" fill="#000"/>
<circle cx="855.3" cy="954.8" r="3.0" fill="#000"/>
<circle cx="870.45" cy="954.8" r="3.0" fill="#000"/>
<circle cx="885.6" cy="954.8" r="3.0" fill="#000"/>
<circle cx="900.75" cy="954.8" r="3.0" fill="#000"/>
<circle cx="915.9" cy="954.8" r="3.0" fill="#000"/>
<circle cx="931.05" cy="954.8" r="3.0" fill="#000"/>
<circle cx="946.2" cy="954.8" r="3.0" fill="#000"/>
<circle cx="961.35" cy="954.8" r="3.0" fill="#000"/>
<circle cx="976.5" cy="954.8" r="3.0" fill="#000"/>
<circle cx="991.65" cy="954.8" r="3.0" fill="#000"/>
<circle cx="1006.8" cy="954.8" r="3.0" fill="#000"/>
<circle cx="1021.95" cy="954.8" r="3.0" fill="#000"/>
<circle cx="1037.1" cy="954.8" r="3.0" fill="#000"/>
<circle cx="1052.25" cy="954.8" r="3.0" fill="#000"/>
<circle cx="1067.4" cy="954.8" r="3.0" fill="#000"/>
<circle cx="1082.55" cy="954.8" r="3.0" fill="#000"/>
<circle cx="1097.7" cy="954.8" r="3.0" fill="#000"/>
<circle cx="1112.85" cy="954.8" r="3.0" fill="#000"/>
<circle cx="1128" cy="954.8" r="3.0" fill="#000"/>
<circle cx="1143.15" cy="954.8" r="3.0" fill="#000"/>
<defs><g id="mc"><circle r="6.7" fill="#8e8e8e" stroke="#3a3a3a" stroke-width="2.5"/><circle r="4.3" fill="none" stroke="#ababab" stroke-width="1.3"/><circle r="3.0" fill="#000"/></g><g id="ms"><rect x="-6.4" y="-6.4" width="12.8" height="12.8" fill="#8a8a8a" stroke="#383838" stroke-width="2.4"/><rect x="-4.3" y="-4.3" width="8.6" height="8.6" fill="none" stroke="#a0a0a0" stroke-width="1.1"/><circle r="3.0" fill="#000"/></g><g id="mh"><polygon points="-9.4,0 -4.7,-7 4.7,-7 9.4,0 4.7,7 -4.7,7" fill="#d0d0d0" stroke="#626262" stroke-width="1.9"/><circle r="3.0" fill="#000"/></g><g id="mo"><circle r="6.4" fill="#fff" stroke="#000" stroke-width="3.3"/></g></defs>
<use href="#mo" x="1141.7" y="963.39"/>
<use href="#mo" x="1130.35" y="963.89"/>
<use href="#mo" x="1119" y="964.9"/>
<use href="#mo" x="1107.65" y="965.91"/>
<use href="#mo" x="1096.3" y="967.43"/>
<use href="#mo" x="1084.95" y="967.93"/>
<use href="#mo" x="1073.6" y="968.94"/>
<use href="#mo" x="1062.25" y="970.46"/>
<use href="#mo" x="1050.9" y="972.48"/>
<use href="#mo" x="1039.55" y="975.51"/>
<use href="#mo" x="1028.2" y="979.04"/>
<use href="#mo" x="1016.85" y="983.08"/>
<use href="#mo" x="1005.5" y="987.63"/>
<use href="#mo" x="994.15" y="993.18"/>
<use href="#mo" x="982.8" y="999.75"/>
<use href="#mo" x="971.45" y="1007.32"/>
<use href="#mo" x="960.1" y="1014.9"/>
<use href="#mo" x="948.75" y="1021.97"/>
<use href="#mo" x="937.4" y="1029.55"/>
<use href="#mo" x="926.05" y="1037.62"/>
<use href="#mo" x="914.7" y="1044.69"/>
<use href="#mo" x="903.35" y="1050.25"/>
<use href="#mo" x="892" y="1056.82"/>
<use href="#mo" x="880.65" y="1062.88"/>
<use href="#mo" x="869.3" y="1067.42"/>
<use href="#mo" x="857.95" y="1072.47"/>
<use href="#mo" x="846.6" y="1072.97"/>
<use href="#mo" x="835.25" y="1072.97"/>
<use href="#mo" x="823.9" y="1073.98"/>
<use href="#mo" x="812.55" y="1075.5"/>
<use href="#mo" x="801.2" y="1073.98"/>
<use href="#mo" x="789.85" y="1071.96"/>
<use href="#mo" x="778.5" y="1069.94"/>
<use href="#mo" x="767.15" y="1068.93"/>
<use href="#mo" x="755.8" y="1071.96"/>
<use href="#mo" x="744.45" y="1076"/>
<use href="#mo" x="733.1" y="1081.56"/>
<use href="#mo" x="721.75" y="1090.65"/>
<use href="#mo" x="710.4" y="1098.73"/>
<use href="#mo" x="699.05" y="1109.84"/>
<use href="#mo" x="687.7" y="1126"/>
<use href="#mo" x="676.35" y="1139.13"/>
<use href="#mo" x="665" y="1155.29"/>
<use href="#mo" x="653.65" y="1169.43"/>
<use href="#mo" x="642.3" y="1179.53"/>
<use href="#mo" x="630.95" y="1175.49"/>
<use href="#mo" x="619.6" y="1163.37"/>
<use href="#mo" x="608.25" y="1142.16"/>
<use href="#mo" x="596.9" y="1126"/>
<use href="#mo" x="585.55" y="1097.72"/>
<use href="#mo" x="574.2" y="1067.42"/>
<use href="#mo" x="562.85" y="1035.1"/>
<use href="#mo" x="551.5" y="1004.8"/>
<use href="#mo" x="540.15" y="990.15"/>
<use href="#mo" x="528.8" y="978.54"/>
<use href="#mo" x="517.45" y="969.45"/>
<use href="#mo" x="506.1" y="964.4"/>
<use href="#mo" x="494.75" y="963.39"/>
<use href="#mo" x="483.4" y="964.4"/>
<use href="#mo" x="472.05" y="966.42"/>
<use href="#mo" x="460.7" y="968.44"/>
<use href="#mh" x="1141.7" y="954.8"/>
<use href="#mh" x="1130.35" y="955.31"/>
<use href="#mh" x="1119" y="956.12"/>
<use href="#mh" x="1107.65" y="957.13"/>
<use href="#mh" x="1096.3" y="958.34"/>
<use href="#mh" x="1084.95" y="959.85"/>
<use href="#mh" x="1073.6" y="962.38"/>
<use href="#mh" x="1062.25" y="965.41"/>
<use href="#mh" x="1050.9" y="968.94"/>
<use href="#mh" x="1039.55" y="972.98"/>
<use href="#mh" x="1028.2" y="977.53"/>
<use href="#mh" x="1016.85" y="983.08"/>
<use href="#mh" x="1005.5" y="989.65"/>
<use href="#mh" x="994.15" y="996.21"/>
<use href="#mh" x="982.8" y="1003.79"/>
<use href="#mh" x="971.45" y="1012.88"/>
<use href="#mh" x="960.1" y="1021.97"/>
<use href="#mh" x="948.75" y="1031.06"/>
<use href="#mh" x="937.4" y="1038.13"/>
<use href="#mh" x="926.05" y="1047.22"/>
<use href="#mh" x="914.7" y="1055.3"/>
<use href="#mh" x="903.35" y="1062.88"/>
<use href="#mh" x="892" y="1068.43"/>
<use href="#mh" x="880.65" y="1073.48"/>
<use href="#mh" x="869.3" y="1077.52"/>
<use href="#mh" x="857.95" y="1079.54"/>
<use href="#mh" x="846.6" y="1080.55"/>
<use href="#mh" x="835.25" y="1081.56"/>
<use href="#mh" x="823.9" y="1080.55"/>
<use href="#mh" x="812.55" y="1080.55"/>
<use href="#mh" x="801.2" y="1079.54"/>
<use href="#mh" x="789.85" y="1080.55"/>
<use href="#mh" x="778.5" y="1079.54"/>
<use href="#mh" x="767.15" y="1079.54"/>
<use href="#mh" x="755.8" y="1082.57"/>
<use href="#mh" x="744.45" y="1085.6"/>
<use href="#mh" x="733.1" y="1090.65"/>
<use href="#mh" x="721.75" y="1098.73"/>
<use href="#mh" x="710.4" y="1112.87"/>
<use href="#mh" x="699.05" y="1129.03"/>
<use href="#mh" x="687.7" y="1150.24"/>
<use href="#mh" x="676.35" y="1171.45"/>
<use href="#mh" x="665" y="1194.68"/>
<use href="#mh" x="653.65" y="1203.77"/>
<use href="#mh" x="642.3" y="1205.79"/>
<use href="#mh" x="630.95" y="1191.65"/>
<use href="#mh" x="619.6" y="1176.5"/>
<use href="#mh" x="608.25" y="1149.23"/>
<use href="#mh" x="596.9" y="1119.94"/>
<use href="#mh" x="585.55" y="1085.6"/>
<use href="#mh" x="574.2" y="1047.22"/>
<use href="#mh" x="562.85" y="1011.87"/>
<use href="#mh" x="551.5" y="985.61"/>
<use href="#mh" x="540.15" y="966.42"/>
<use href="#mh" x="528.8" y="960.36"/>
<use href="#mh" x="517.45" y="957.33"/>
<use href="#mh" x="506.1" y="971.47"/>
<use href="#mh" x="494.75" y="972.48"/>
<use href="#mh" x="483.4" y="969.45"/>
<use href="#mh" x="472.05" y="962.38"/>
<use href="#mh" x="460.7" y="959.35"/>
<use href="#ms" x="1141.7" y="957.53"/>
<use href="#ms" x="1130.35" y="957.94"/>
<use href="#ms" x="1119" y="958.54"/>
<use href="#ms" x="1107.65" y="959.35"/>
<use href="#ms" x="1096.3" y="960.87"/>
<use href="#ms" x="1084.95" y="962.38"/>
<use href="#ms" x="1073.6" y="964.4"/>
<use href="#ms" x="1062.25" y="966.92"/>
<use href="#ms" x="1050.9" y="970.46"/>
<use href="#ms" x="1039.55" y="975"/>
<use href="#ms" x="1028.2" y="981.06"/>
<use href="#ms" x="1016.85" y="987.33"/>
<use href="#ms" x="1005.5" y="994.5"/>
<use href="#ms" x="994.15" y="1002.78"/>
<use href="#ms" x="982.8" y="1012.88"/>
<use href="#ms" x="971.45" y="1023.48"/>
<use href="#ms" x="960.1" y="1035.1"/>
<use href="#ms" x="948.75" y="1047.22"/>
<use href="#ms" x="937.4" y="1055.3"/>
<use href="#ms" x="926.05" y="1066.41"/>
<use href="#ms" x="914.7" y="1077.52"/>
<use href="#ms" x="903.35" y="1087.62"/>
<use href="#ms" x="892" y="1098.73"/>
<use href="#ms" x="880.65" y="1106.81"/>
<use href="#ms" x="869.3" y="1112.87"/>
<use href="#ms" x="857.95" y="1115.9"/>
<use href="#ms" x="846.6" y="1118.93"/>
<use href="#ms" x="835.25" y="1120.95"/>
<use href="#ms" x="823.9" y="1120.95"/>
<use href="#ms" x="812.55" y="1120.95"/>
<use href="#ms" x="801.2" y="1119.94"/>
<use href="#ms" x="789.85" y="1115.9"/>
<use href="#ms" x="778.5" y="1115.9"/>
<use href="#ms" x="767.15" y="1115.9"/>
<use href="#ms" x="755.8" y="1114.89"/>
<use href="#ms" x="744.45" y="1114.89"/>
<use href="#ms" x="733.1" y="1118.93"/>
<use href="#ms" x="721.75" y="1128.52"/>
<use href="#ms" x="710.4" y="1143.17"/>
<use href="#ms" x="699.05" y="1161.35"/>
<use href="#ms" x="687.7" y="1184.58"/>
<use href="#ms" x="676.35" y="1203.77"/>
<use href="#ms" x="665" y="1221.95"/>
<use href="#ms" x="653.65" y="1236.09"/>
<use href="#ms" x="642.3" y="1239.12"/>
<use href="#ms" x="630.95" y="1232.05"/>
<use href="#ms" x="619.6" y="1210.84"/>
<use href="#ms" x="608.25" y="1181.55"/>
<use href="#ms" x="596.9" y="1145.19"/>
<use href="#ms" x="585.55" y="1104.79"/>
<use href="#ms" x="574.2" y="1058.33"/>
<use href="#ms" x="562.85" y="1029.04"/>
<use href="#ms" x="551.5" y="999.75"/>
<use href="#ms" x="540.15" y="980.56"/>
<use href="#ms" x="528.8" y="969.45"/>
<use href="#ms" x="517.45" y="965.41"/>
<use href="#ms" x="506.1" y="960.36"/>
<use href="#ms" x="494.75" y="959.35"/>
<use href="#ms" x="483.4" y="962.38"/>
<use href="#ms" x="472.05" y="956.32"/>
<use href="#ms" x="460.7" y="954.3"/>
<use href="#mc" x="1141.7" y="958.34"/>
<use href="#mc" x="1130.35" y="958.34"/>
<use href="#mc" x="1119" y="959.35"/>
<use href="#mc" x="1107.65" y="960.36"/>
<use href="#mc" x="1096.3" y="962.38"/>
<use href="#mc" x="1084.95" y="964.4"/>
<use href="#mc" x="1073.6" y="966.42"/>
<use href="#mc" x="1062.25" y="970.96"/>
<use href="#mc" x="1050.9" y="976.01"/>
<use href="#mc" x="1039.55" y="982.58"/>
<use href="#mc" x="1028.2" y="990.66"/>
<use href="#mc" x="1016.85" y="998.74"/>
<use href="#mc" x="1005.5" y="1008.84"/>
<use href="#mc" x="994.15" y="1019.95"/>
<use href="#mc" x="982.8" y="1034.6"/>
<use href="#mc" x="971.45" y="1051.26"/>
<use href="#mc" x="960.1" y="1072.47"/>
<use href="#mc" x="948.75" y="1093.68"/>
<use href="#mc" x="937.4" y="1110.35"/>
<use href="#mc" x="926.05" y="1133.58"/>
<use href="#mc" x="914.7" y="1154.28"/>
<use href="#mc" x="903.35" y="1174.48"/>
<use href="#mc" x="892" y="1194.17"/>
<use href="#mc" x="880.65" y="1210.84"/>
<use href="#mc" x="869.3" y="1224.98"/>
<use href="#mc" x="857.95" y="1234.07"/>
<use href="#mc" x="846.6" y="1241.64"/>
<use href="#mc" x="835.25" y="1246.69"/>
<use href="#mc" x="823.9" y="1248.21"/>
<use href="#mc" x="812.55" y="1247.2"/>
<use href="#mc" x="801.2" y="1244.17"/>
<use href="#mc" x="789.85" y="1238.11"/>
<use href="#mc" x="778.5" y="1233.06"/>
<use href="#mc" x="767.15" y="1228.01"/>
<use href="#mc" x="755.8" y="1222.96"/>
<use href="#mc" x="744.45" y="1223.97"/>
<use href="#mc" x="733.1" y="1224.98"/>
<use href="#mc" x="721.75" y="1234.07"/>
<use href="#mc" x="710.4" y="1245.18"/>
<use href="#mc" x="699.05" y="1259.32"/>
<use href="#mc" x="687.7" y="1281.54"/>
<use href="#mc" x="676.35" y="1301.74"/>
<use href="#mc" x="665" y="1319.92"/>
<use href="#mc" x="653.65" y="1325.98"/>
<use href="#mc" x="642.3" y="1319.92"/>
<use href="#mc" x="630.95" y="1300.73"/>
<use href="#mc" x="619.6" y="1269.42"/>
<use href="#mc" x="608.25" y="1231.04"/>
<use href="#mc" x="596.9" y="1181.55"/>
<use href="#mc" x="585.55" y="1126"/>
<use href="#mc" x="574.2" y="1068.43"/>
<use href="#mc" x="562.85" y="1025"/>
<use href="#mc" x="551.5" y="997.73"/>
<use href="#mc" x="540.15" y="977.53"/>
<use href="#mc" x="528.8" y="965.41"/>
<use href="#mc" x="517.45" y="961.37"/>
<use href="#mc" x="506.1" y="954.3"/>
<use href="#mc" x="494.75" y="949.25"/>
<use href="#mc" x="483.4" y="957.33"/>
<use href="#mc" x="472.05" y="952.28"/>
<use href="#mc" x="460.7" y="951.27"/>
<circle cx="541.3" cy="769.3" r="16.4" fill="#888" stroke="#505050" stroke-width="2.6"/><circle cx="541.3" cy="769.3" r="8.2" fill="none" stroke="#a4a4a4" stroke-width="2"/><circle cx="541.3" cy="769.3" r="5.6" fill="#000"/>
<rect x="524.2" y="826" width="35" height="35" fill="#858585" stroke="#4a4a4a" stroke-width="2"/><circle cx="541.7" cy="843.5" r="5.2" fill="#000"/>
<polygon points="778.4,769.3 789.55,749.7 811.85,749.7 823,769.3 811.85,788.9 789.55,788.9" fill="#c8c8c8" stroke="#8a8a8a" stroke-width="2"/><circle cx="800.7" cy="769.3" r="5.2" fill="#000"/>
<circle cx="799.8" cy="848.5" r="14.6" fill="#fff" stroke="#000" stroke-width="3"/>
<text transform="translate(600,786.2) scale(1.016,1)" font-family="'Liberation Sans', Arial, sans-serif" font-size="46" fill="#000" stroke="#000" stroke-width="0.3">5 °C</text>
<text transform="translate(860.5,786.2) scale(1.016,1)" font-family="'Liberation Sans', Arial, sans-serif" font-size="46" fill="#000" stroke="#000" stroke-width="0.3">37 °C</text>
<text transform="translate(598.5,859.5) scale(1.016,1)" font-family="'Liberation Sans', Arial, sans-serif" font-size="46" fill="#000" stroke="#000" stroke-width="0.3">25 °C</text>
<text transform="translate(860.5,865.5) scale(1.016,1)" font-family="'Liberation Sans', Arial, sans-serif" font-size="46" fill="#000" stroke="#000" stroke-width="0.3">pH 7.4, 37 °C</text>
</svg>
</body></html>
